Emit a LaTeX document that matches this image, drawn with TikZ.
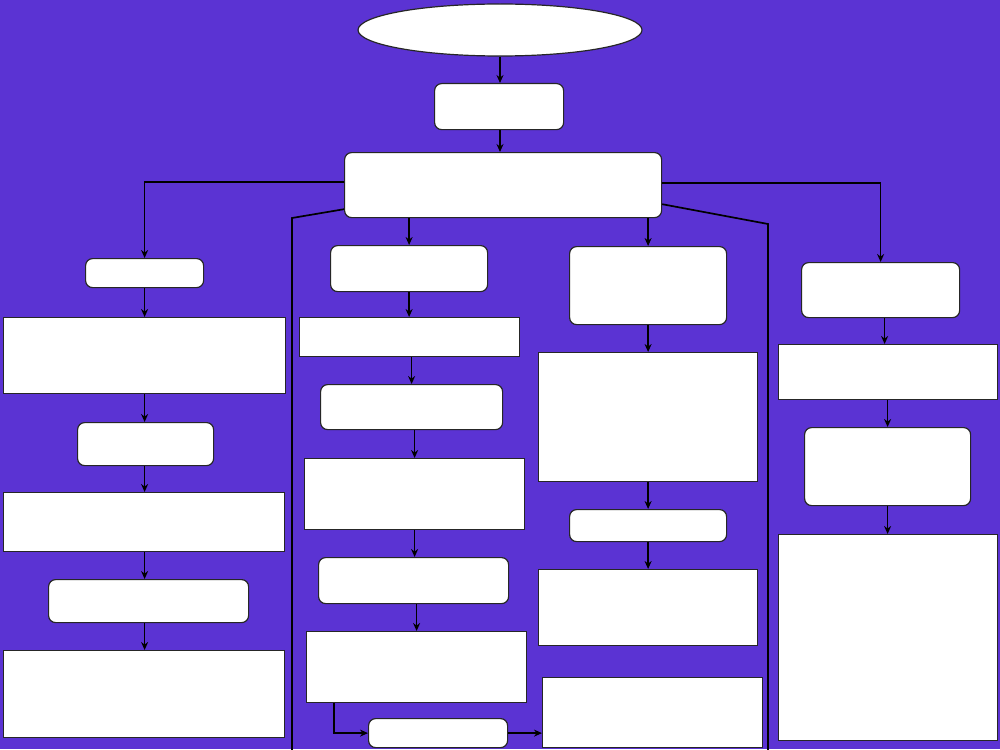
\documentclass[tikz,border=0pt]{standalone}
\usetikzlibrary{arrows.meta,shapes.geometric}
\definecolor{bgc}{RGB}{91,51,211}
\begin{document}
\begin{tikzpicture}[x=1pt,y=-1pt,
  base/.style={draw=black!85,fill=white,line width=1.2pt,inner sep=0pt,anchor=north west},
  rbox/.style={base,rounded corners=7pt},
  sbox/.style={base},
  arr/.style={line width=1.7pt,-{Stealth[length=8pt,width=7pt]}},
  ln/.style={line width=1.7pt}]
\fill[bgc] (0,0) rectangle (1000,749);
\useasboundingbox (0,0) rectangle (1000,749);
% top
\node[draw=black!85,fill=white,line width=1.2pt,ellipse,minimum width=284pt,minimum height=52pt,inner sep=0pt] (e) at (500,30) {};
\node[rbox,minimum width=129pt,minimum height=46pt] (b2) at (434,83) {};
\node[rbox,minimum width=317pt,minimum height=65pt] (b3) at (344,152) {};
% left column
\node[rbox,minimum width=118pt,minimum height=29pt] (l1) at (85,258) {};
\node[sbox,minimum width=282pt,minimum height=76pt] (l2) at (3,317) {};
\node[rbox,minimum width=136pt,minimum height=43pt] (l3) at (77,422) {};
\node[sbox,minimum width=281pt,minimum height=59pt] (l4) at (3,492) {};
\node[rbox,minimum width=200pt,minimum height=43pt] (l5) at (48,579) {};
\node[sbox,minimum width=281pt,minimum height=87pt] (l6) at (3,650) {};
% middle column
\node[rbox,minimum width=157pt,minimum height=46pt] (m1) at (330,245) {};
\node[sbox,minimum width=220pt,minimum height=39pt] (m2) at (299,317) {};
\node[rbox,minimum width=182pt,minimum height=45pt] (m3) at (320,384) {};
\node[sbox,minimum width=220pt,minimum height=71pt] (m4) at (304,458) {};
\node[rbox,minimum width=190pt,minimum height=46pt] (m5) at (318,557) {};
\node[sbox,minimum width=220pt,minimum height=71pt] (m6) at (306,631) {};
\node[rbox,minimum width=139pt,minimum height=29pt] (m7) at (368,718) {};
% third column
\node[rbox,minimum width=157pt,minimum height=78pt] (c1) at (569,246) {};
\node[sbox,minimum width=219pt,minimum height=129pt] (c2) at (538,352) {};
\node[rbox,minimum width=157pt,minimum height=32pt] (c3) at (569,509) {};
\node[sbox,minimum width=219pt,minimum height=76pt] (c4) at (538,569) {};
\node[sbox,minimum width=220pt,minimum height=70pt] (c5) at (542,677) {};
% right column
\node[rbox,minimum width=158pt,minimum height=55pt] (r1) at (801,262) {};
\node[sbox,minimum width=219pt,minimum height=55pt] (r2) at (778,344) {};
\node[rbox,minimum width=166pt,minimum height=78pt] (r3) at (804,427) {};
\node[sbox,minimum width=219pt,minimum height=206pt] (r4) at (778,534) {};
% divider lines
\coordinate (dl1) at (292,218);
\coordinate (dl2) at (292,752);
\coordinate (dr1) at (768,224);
\coordinate (dr2) at (768,752);
\draw[ln] ([yshift=9pt]b3.south west) -- (dl1) -- (dl2);
\draw[ln] ([yshift=14pt]b3.south east) -- (dr1) -- (dr2);
% connectors top
\draw[arr] (e.south) -- (e.south |- b2.north);
\draw[arr] (b2.south -| e.south) -- (e.south |- b3.north);
\draw[arr] ([yshift=3pt]b3.west) -| (l1.north);
\draw[arr] ([yshift=2pt]b3.east) -| (r1.north);
\draw[arr] (b3.south -| m1.north) -- (m1.north);
\draw[arr] (b3.south -| c1.north) -- (c1.north);
% left
\draw[arr] (l1.south) -- (l1.south |- l2.north);
\draw[arr] (l2.south) -- (l2.south |- l3.north);
\draw[arr] (l3.south -| l2.south) -- (l2.south |- l4.north);
\draw[arr] (l4.south -| l2.south) -- (l2.south |- l5.north);
\draw[arr] (l5.south -| l2.south) -- (l2.south |- l6.north);
% middle
\draw[arr] (m1.south) -- (m1.south |- m2.north);
\draw[arr] (m2.south -| m3.north) -- (m3.north);
\draw[arr] (m3.south -| m4.north) -- (m4.north);
\draw[arr] (m4.south -| m4.north) -- (m4.south |- m5.north);
\draw[arr] (m5.south -| m6.north) -- (m6.north);
\draw[arr] ([xshift=28pt]m6.south west) |- (m7.west);
\draw[arr] (m7.east) -- (m7.east -| c5.west);
% third
\draw[arr] (c1.south) -- (c1.south |- c2.north);
\draw[arr] (c2.south -| c1.south) -- (c3.north);
\draw[arr] (c3.south) -- (c3.south |- c4.north);
% right
\draw[arr] ([xshift=4pt]r1.south) -- ([xshift=4pt]r1.south |- r2.north);
\draw[arr] (r2.south -| r3.north) -- (r3.north);
\draw[arr] (r3.south) -- (r3.south |- r4.north);
\end{tikzpicture}
\end{document}
